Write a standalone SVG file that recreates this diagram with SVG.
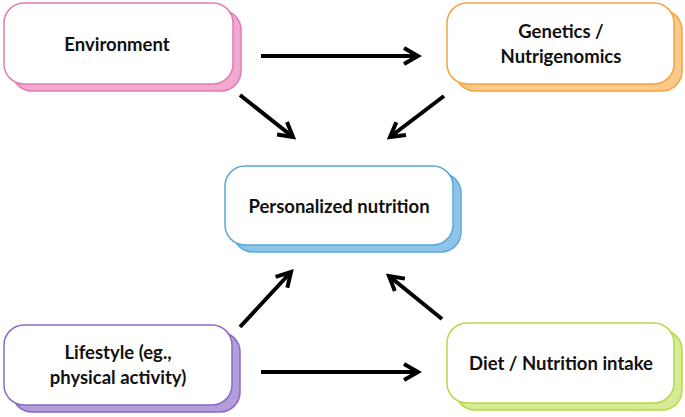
<svg xmlns="http://www.w3.org/2000/svg" width="685" height="417" viewBox="0 0 685 417">
<style>
text{font-family:Lato,"Liberation Sans",sans-serif;font-weight:bold;font-size:18.5px;fill:#111;text-anchor:middle}
.f{fill:#fff;stroke-width:1.5}
.s{stroke-width:1.5}
</style>
<defs><marker id="a" viewBox="0 0 10 10" refX="8" refY="5" markerWidth="5" markerHeight="5" orient="auto"><path d="M1,1L8,5L1,9" fill="none" stroke="#000" stroke-width="2"/></marker></defs>
<rect width="685" height="417" fill="#fff"/>
<g id="env"><rect class="s" x="12" y="10" width="229" height="81" rx="20" fill="#f2a9cf" stroke="#e27cb4"/><rect class="f" x="4" y="3" width="229" height="81" rx="20" stroke="#e27cb4"/><text x="117" y="51">Environment</text></g>
<g id="gen"><rect class="s" x="455" y="10" width="227" height="81" rx="20" fill="#fbc98a" stroke="#f5a43f"/><rect class="f" x="447" y="3" width="227" height="81" rx="20" stroke="#f5a43f"/><text x="561" y="38">Genetics /</text><text x="561" y="63">Nutrigenomics</text></g>
<g id="per"><rect class="s" x="233" y="173" width="228" height="79" rx="20" fill="#8ec4e8" stroke="#5aa8dc"/><rect class="f" x="225" y="166" width="228" height="79" rx="20" stroke="#5aa8dc"/><text x="339" y="213">Personalized nutrition</text></g>
<g id="life"><rect class="s" x="12" y="332" width="228" height="80" rx="20" fill="#b39ddb" stroke="#8a68c8"/><rect class="f" x="4" y="325" width="228" height="80" rx="20" stroke="#8a68c8"/><text x="118" y="359">Lifestyle (eg.,</text><text x="118" y="384">physical activity)</text></g>
<g id="diet"><rect class="s" x="455" y="330" width="227" height="80" rx="20" fill="#d6eb93" stroke="#b7d94a"/><rect class="f" x="447" y="323" width="227" height="80" rx="20" stroke="#b7d94a"/><text x="561" y="370">Diet / Nutrition intake</text></g>
<g id="connectors" stroke="#000" stroke-width="4" fill="none" marker-end="url(#a)">
<line x1="261" y1="56" x2="418" y2="56"/>
<line x1="240" y1="95" x2="293" y2="137"/>
<line x1="444" y1="96" x2="390" y2="137"/>
<line x1="240" y1="327" x2="291" y2="272"/>
<line x1="442" y1="319" x2="389" y2="276"/>
<line x1="261" y1="372" x2="418" y2="372"/>
</g>
</svg>
